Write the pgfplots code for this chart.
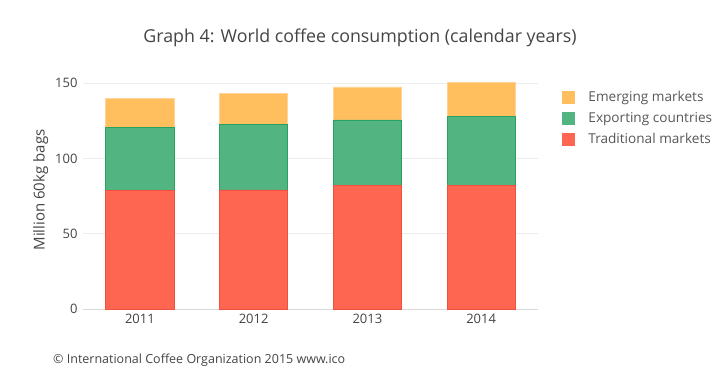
\documentclass[border=0pt]{standalone}
\usepackage{fontspec}
\setmainfont{Open Sans}
\usepackage{pgfplots}
\pgfplotsset{compat=1.18}
\definecolor{emer}{RGB}{255,191,94}
\definecolor{emerE}{RGB}{255,210,150}
\definecolor{expo}{RGB}{82,180,128}
\definecolor{expoE}{RGB}{40,160,95}
\definecolor{trad}{RGB}{255,102,82}
\definecolor{tradE}{RGB}{240,80,60}
\definecolor{txt}{RGB}{68,68,68}
\begin{document}
\begin{tikzpicture}[x=1pt,y=1pt]
\useasboundingbox (0,0) rectangle (720,391);
\begin{axis}[
  at={(83pt,82pt)}, anchor=south west, scale only axis,
  width=455pt, height=238pt,
  xmin=-0.5, xmax=3.5, ymin=0, ymax=158,
  ybar stacked, bar width=0.6,
  axis line style={draw=none}, tick style={draw=none},
  major tick length=0pt,
  ymajorgrids, grid style={color=black!7, line width=0.8pt},
  xtick={0,1,2,3}, xticklabels={2011,2012,2013,2014},
  ytick={0,50,100,150},
  /pgf/number format/assume math mode=true,
  ticklabel style={font=\fontsize{13}{15}\selectfont, text=txt},
  xticklabel style={yshift=-2pt},
  yticklabel style={xshift=-2pt},
  ylabel={Million 60kg bags},
  ylabel style={font=\fontsize{15}{17}\selectfont, text=txt},
  legend style={at={(1.052,0.924)}, anchor=north west, draw=none, fill=none,
    font=\fontsize{13.6}{15}\selectfont, text=txt!90, row sep=5.5pt,
    inner sep=0pt},
  legend cell align=left,
  reverse legend,
]
\addplot[fill=trad, draw=tradE, line width=0.6pt,
  legend image code/.code={\fill[trad] (0pt,-6pt) rectangle (12pt,6pt); \path (24pt,0pt);}]
  coordinates {(0,78.5) (1,79.0) (2,81.8) (3,82.3)};
\addlegendentry{Traditional markets}
\addplot[fill=expo, draw=expoE, line width=0.6pt,
  legend image code/.code={\fill[expo] (0pt,-6pt) rectangle (12pt,6pt); \path (24pt,0pt);}]
  coordinates {(0,42.1) (1,43.8) (2,43.8) (3,45.3)};
\addlegendentry{Exporting countries}
\addplot[fill=emer, draw=emerE, line width=0.6pt,
  legend image code/.code={\fill[emer] (0pt,-6pt) rectangle (12pt,6pt); \path (24pt,0pt);}]
  coordinates {(0,19.2) (1,20.5) (2,21.9) (3,22.6)};
\addlegendentry{Emerging markets}
\draw[black!15, line width=1pt] (rel axis cs:0,0) -- (rel axis cs:1,0);
\end{axis}
\node[text=txt, font=\fontsize{17.8}{20}\selectfont] at (360,353) {Graph 4: World coffee consumption (calendar years)};
\node[text=txt, font=\fontsize{12.5}{15}\selectfont, anchor=west, inner sep=0pt] at (53,31) {© International Coffee Organization 2015 www.ico};
\end{tikzpicture}
\end{document}
